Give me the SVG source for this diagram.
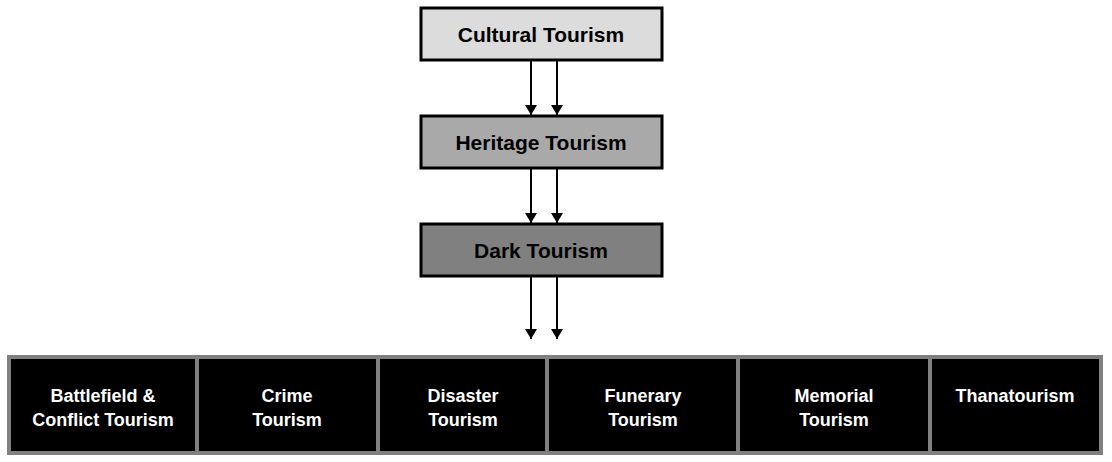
<svg xmlns="http://www.w3.org/2000/svg" width="1112" height="462" viewBox="0 0 1112 462">
<style>
.b{stroke:#000;stroke-width:3}
.t{font-family:"Liberation Sans",Arial,sans-serif;font-weight:bold;font-size:21px;text-anchor:middle;fill:#000}
.w{font-family:"Liberation Sans",Arial,sans-serif;font-weight:bold;font-size:18px;text-anchor:middle;fill:#fff}
.c{fill:#000;stroke:#808080;stroke-width:4}
.a{stroke:#000;stroke-width:2;marker-end:url(#m)}
</style>
<defs><marker id="m" markerWidth="10" markerHeight="10" refX="5" refY="9" orient="auto" markerUnits="userSpaceOnUse" viewBox="0 0 10 10"><path d="M0,0 L10,0 L5,10 Z" transform="rotate(-90 5 5)"/></marker>
<marker id="m2" markerWidth="12" markerHeight="10" refX="6" refY="10" markerUnits="userSpaceOnUse" viewBox="0 0 12 10"><path d="M0,0 L12,0 L6,10 Z"/></marker></defs>
<g id="cultural"><rect x="421" y="8" width="241" height="52" fill="#dcdcdc" class="b"/><text x="541" y="42" class="t">Cultural Tourism</text></g>
<g id="heritage"><rect x="421" y="116" width="241" height="52" fill="#a9a9a9" class="b"/><text x="541" y="150" class="t">Heritage Tourism</text></g>
<g id="dark"><rect x="421" y="224" width="241" height="52" fill="#808080" class="b"/><text x="541" y="258" class="t">Dark Tourism</text></g>
<g id="connectors" stroke="#000" stroke-width="2">
<line x1="531" y1="60" x2="531" y2="115" marker-end="url(#m2)"/>
<line x1="557" y1="60" x2="557" y2="115" marker-end="url(#m2)"/>
<line x1="531" y1="168" x2="531" y2="223" marker-end="url(#m2)"/>
<line x1="557" y1="168" x2="557" y2="223" marker-end="url(#m2)"/>
<line x1="531" y1="276" x2="531" y2="339" marker-end="url(#m2)"/>
<line x1="557" y1="276" x2="557" y2="339" marker-end="url(#m2)"/>
</g>
<g id="battlefield"><rect x="9" y="357" width="188" height="96" class="c"/><text x="103" y="402" class="w">Battlefield &amp;</text><text x="103" y="426" class="w">Conflict Tourism</text></g>
<g id="crime"><rect x="197" y="357" width="181" height="96" class="c"/><text x="287" y="402" class="w">Crime</text><text x="287" y="426" class="w">Tourism</text></g>
<g id="disaster"><rect x="378" y="357" width="169" height="96" class="c"/><text x="463" y="402" class="w">Disaster</text><text x="463" y="426" class="w">Tourism</text></g>
<g id="funerary"><rect x="547" y="357" width="191" height="96" class="c"/><text x="643" y="402" class="w">Funerary</text><text x="643" y="426" class="w">Tourism</text></g>
<g id="memorial"><rect x="738" y="357" width="192" height="96" class="c"/><text x="834" y="402" class="w">Memorial</text><text x="834" y="426" class="w">Tourism</text></g>
<g id="thanatourism"><rect x="930" y="357" width="171" height="96" class="c"/><text x="1015" y="402" class="w">Thanatourism</text></g>
</svg>
